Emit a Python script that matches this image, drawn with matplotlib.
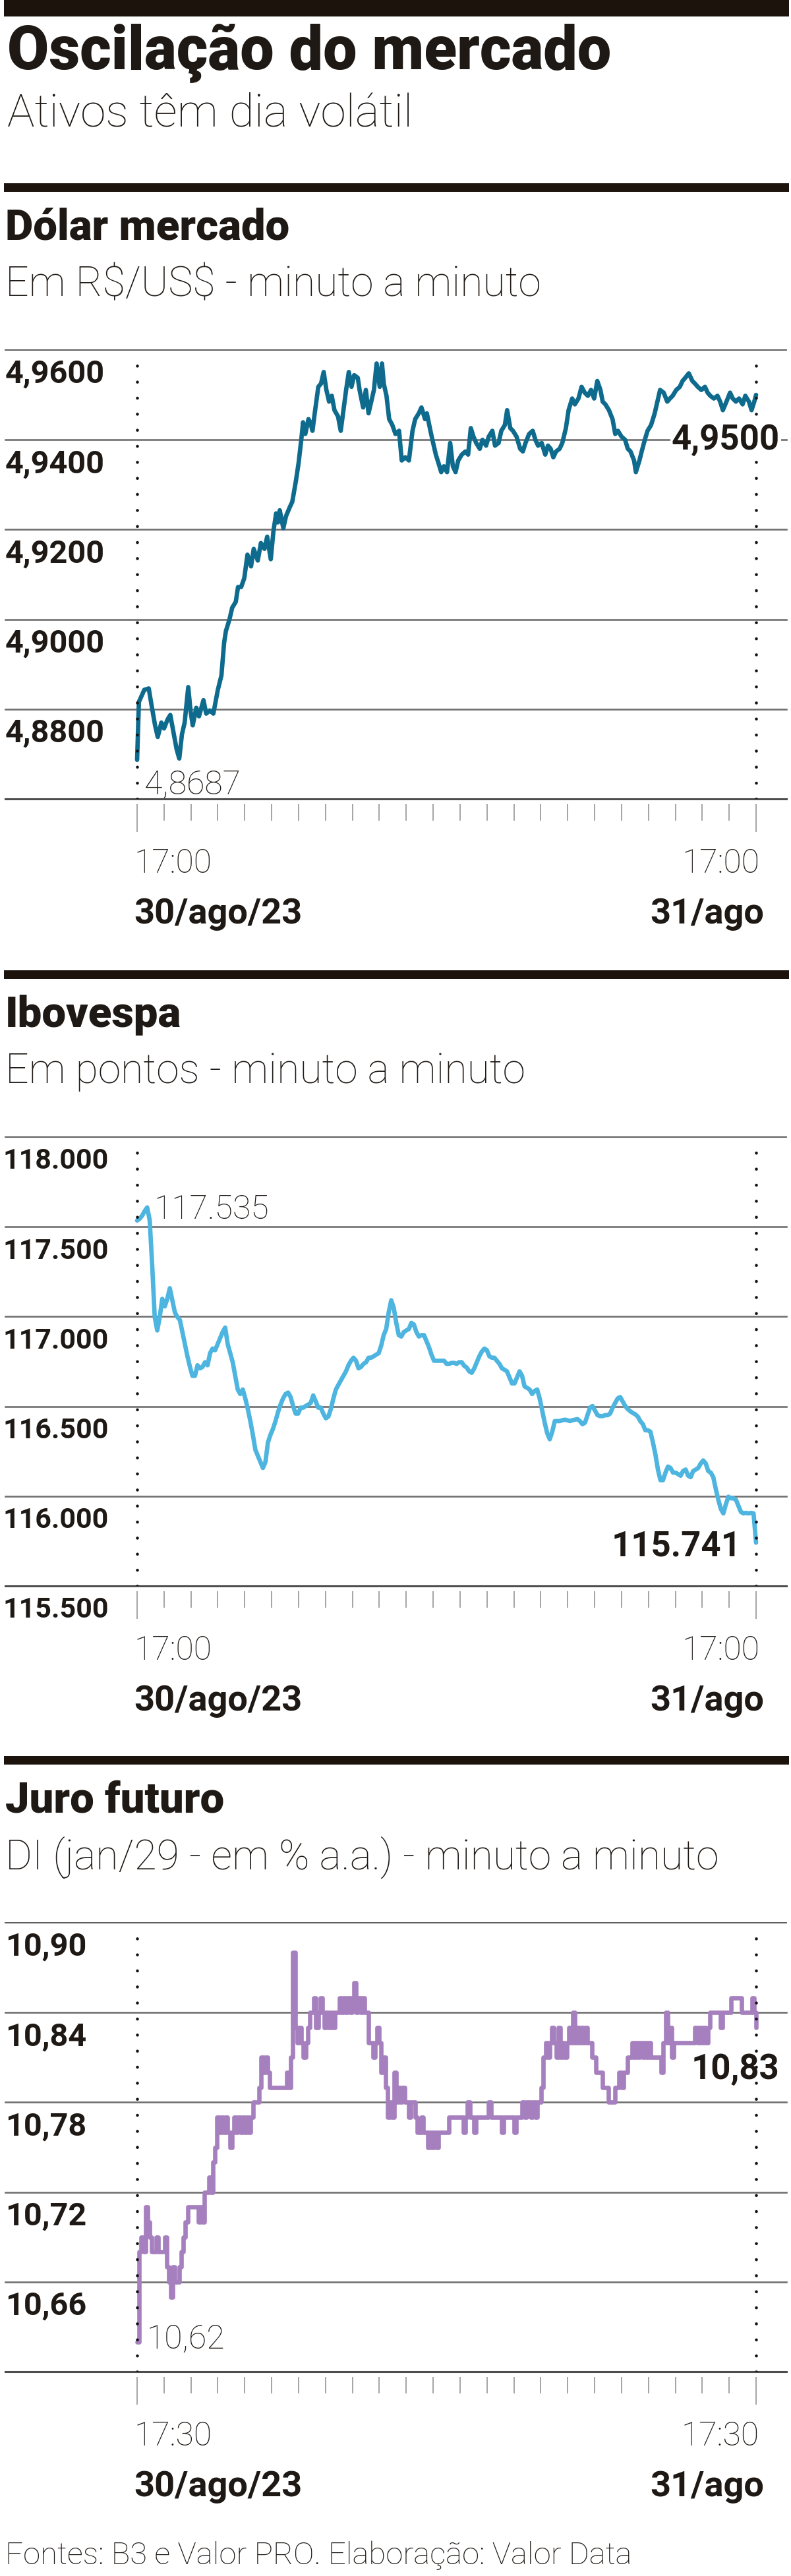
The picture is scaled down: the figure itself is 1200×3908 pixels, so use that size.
import numpy as np
import matplotlib
matplotlib.use("Agg")
import matplotlib.pyplot as plt
from matplotlib import transforms
from matplotlib.patches import Rectangle

# ---- dados ----
sessao = 690      # minutos entre os dois marcadores (17:00 -> 17:00)
n_marcas = 24     # tracinhos do eixo x

# Dólar: minuto, cotação
dolar_min = [0, 2, 8, 13, 16, 20, 23, 27, 30, 34,
             37, 41, 44, 47, 50, 53, 57, 59.5, 62, 66,
             69, 74, 77, 81, 85, 90, 94, 97, 99, 103,
             106, 110, 112.5, 116, 119.5, 123, 127, 130, 134.5, 138,
             142, 145, 149, 152, 155, 157, 159, 163, 166, 170,
             173, 177, 180, 183, 185, 187.5, 191, 193, 195.5, 198,
             202, 205, 208, 211, 214, 217, 220, 224, 227, 230,
             233, 236, 239, 242, 246, 248, 252, 255, 258, 261,
             264, 267, 270.5, 273, 275, 278, 281, 284.5, 288, 292,
             295, 299, 303, 307, 310, 314, 317, 321, 323, 327,
             330, 333, 336, 339, 342, 345.5, 349, 352, 355, 358,
             362, 366, 369, 372, 375, 378, 382, 385, 389, 392,
             396, 399, 403, 406, 410, 412.5, 416, 419, 423, 427,
             430, 433, 437, 441, 444, 447, 451, 455, 458, 461,
             464, 467, 471, 474, 478, 481, 485, 488, 492, 495.5,
             499, 502.5, 506, 509.5, 513, 516.5, 519, 522, 526, 530,
             533, 536, 540, 544, 547, 550, 554, 556, 560, 562.5,
             566, 569, 573, 577, 580, 583, 587, 591, 594, 597,
             601, 605, 608, 611, 615, 619, 622, 625, 629, 633,
             636, 639, 643, 647, 650, 653, 657, 661, 664, 667.5,
             671, 675, 678, 682, 685, 688, 690]
dolar_val = [4.8687, 4.8816, 4.8843, 4.8846, 4.8810, 4.8764, 4.8738, 4.8770, 4.8757, 4.8777,
             4.8787, 4.8744, 4.8711, 4.8690, 4.8744, 4.8770, 4.8849, 4.8797, 4.8764, 4.8803,
             4.8784, 4.8820, 4.8790, 4.8797, 4.8790, 4.8843, 4.8875, 4.8948, 4.8974, 4.9000,
             4.9026, 4.9039, 4.9072, 4.9072, 4.9092, 4.9144, 4.9118, 4.9157, 4.9131, 4.9170,
             4.9157, 4.9184, 4.9134, 4.9197, 4.9236, 4.9216, 4.9243, 4.9203, 4.9230, 4.9249,
             4.9262, 4.9308, 4.9348, 4.9400, 4.9439, 4.9413, 4.9446, 4.9439, 4.9420, 4.9459,
             4.9518, 4.9525, 4.9551, 4.9511, 4.9485, 4.9498, 4.9466, 4.9452, 4.9420, 4.9466,
             4.9511, 4.9551, 4.9518, 4.9544, 4.9538, 4.9511, 4.9472, 4.9511, 4.9459, 4.9485,
             4.9511, 4.9570, 4.9518, 4.9570, 4.9525, 4.9498, 4.9446, 4.9433, 4.9413, 4.9420,
             4.9354, 4.9361, 4.9354, 4.9420, 4.9446, 4.9459, 4.9472, 4.9446, 4.9459, 4.9420,
             4.9393, 4.9367, 4.9348, 4.9328, 4.9341, 4.9328, 4.9393, 4.9341, 4.9328, 4.9354,
             4.9367, 4.9374, 4.9367, 4.9426, 4.9407, 4.9393, 4.9380, 4.9400, 4.9387, 4.9407,
             4.9420, 4.9387, 4.9393, 4.9420, 4.9433, 4.9466, 4.9426, 4.9420, 4.9407, 4.9380,
             4.9374, 4.9393, 4.9413, 4.9420, 4.9400, 4.9387, 4.9393, 4.9367, 4.9387, 4.9380,
             4.9361, 4.9374, 4.9380, 4.9393, 4.9426, 4.9466, 4.9492, 4.9479, 4.9492, 4.9518,
             4.9505, 4.9498, 4.9511, 4.9492, 4.9531, 4.9511, 4.9485, 4.9479, 4.9466, 4.9446,
             4.9413, 4.9420, 4.9407, 4.9400, 4.9380, 4.9374, 4.9354, 4.9328, 4.9354, 4.9374,
             4.9400, 4.9420, 4.9433, 4.9459, 4.9485, 4.9511, 4.9505, 4.9485, 4.9492, 4.9498,
             4.9511, 4.9518, 4.9531, 4.9538, 4.9548, 4.9531, 4.9525, 4.9518, 4.9511, 4.9518,
             4.9505, 4.9498, 4.9492, 4.9498, 4.9485, 4.9466, 4.9485, 4.9505, 4.9492, 4.9485,
             4.9492, 4.9479, 4.9498, 4.9485, 4.9466, 4.9485, 4.9500]
dolar_grid = [4.96, 4.94, 4.92, 4.90, 4.88, 4.86]
dolar_ticks = ["4,9600", "4,9400", "4,9200", "4,9000", "4,8800"]

# Ibovespa: pontos, amostras igualmente espaçadas
ibov_val = [117535, 117545, 117562, 117588, 117608, 117537, 117284, 116998, 116923, 116998,
            117099, 117057, 117099, 117158, 117091, 117024, 116998, 116981, 116914, 116847,
            116779, 116720, 116670, 116670, 116729, 116712, 116720, 116746, 116729, 116796,
            116822, 116813, 116847, 116880, 116914, 116939, 116847, 116796, 116746, 116670,
            116594, 116569, 116594, 116544, 116485, 116418, 116342, 116258, 116224, 116190,
            116157, 116190, 116300, 116342, 116375, 116418, 116468, 116510, 116544, 116569,
            116577, 116552, 116502, 116460, 116460, 116493, 116493, 116502, 116510, 116519,
            116561, 116527, 116493, 116493, 116460, 116434, 116443, 116485, 116544, 116594,
            116620, 116645, 116670, 116695, 116729, 116754, 116771, 116754, 116712, 116720,
            116737, 116746, 116771, 116771, 116779, 116788, 116796, 116838, 116897, 116931,
            117024, 117091, 117049, 116965, 116897, 116889, 116914, 116923, 116931, 116965,
            116956, 116914, 116889, 116897, 116897, 116864, 116830, 116788, 116754, 116754,
            116754, 116754, 116754, 116737, 116737, 116742, 116742, 116737, 116746, 116746,
            116726, 116716, 116695, 116687, 116712, 116746, 116779, 116805, 116822, 116813,
            116779, 116771, 116771, 116754, 116737, 116712, 116704, 116695, 116662, 116628,
            116628, 116662, 116695, 116670, 116611, 116603, 116594, 116569, 116586, 116594,
            116544, 116476, 116409, 116350, 116317, 116359, 116418, 116418, 116418, 116423,
            116426, 116423, 116418, 116423, 116426, 116429, 116418, 116401, 116409, 116451,
            116493, 116502, 116476, 116451, 116446, 116446, 116451, 116451, 116460, 116493,
            116519, 116544, 116552, 116527, 116502, 116485, 116473, 116463, 116456, 116443,
            116418, 116401, 116367, 116367, 116359, 116300, 116232, 116148, 116089, 116089,
            116131, 116165, 116157, 116131, 116131, 116123, 116114, 116140, 116148, 116114,
            116106, 116140, 116148, 116157, 116182, 116199, 116182, 116140, 116131, 116106,
            116039, 115980, 115929, 115904, 115955, 115997, 115988, 115988, 115980, 115946,
            115912, 115904, 115907, 115904, 115907, 115904, 115741]
ibov_grid = [118000, 117500, 117000, 116500, 116000, 115500]
ibov_ticks = ["118.000", "117.500", "117.000", "116.500", "116.000", "115.500"]

# Juro futuro DI jan/29: % a.a., amostras igualmente espaçadas
juro_val = [10.62, 10.68, 10.69, 10.68, 10.71, 10.70, 10.69, 10.68, 10.68, 10.69,
            10.68, 10.68, 10.68, 10.69, 10.67, 10.66, 10.65, 10.67, 10.66, 10.66,
            10.67, 10.68, 10.69, 10.70, 10.71, 10.71, 10.71, 10.71, 10.71, 10.70,
            10.71, 10.70, 10.72, 10.72, 10.73, 10.72, 10.74, 10.75, 10.77, 10.76,
            10.77, 10.76, 10.77, 10.76, 10.75, 10.76, 10.77, 10.76, 10.77, 10.76,
            10.77, 10.76, 10.77, 10.76, 10.77, 10.78, 10.78, 10.78, 10.79, 10.81,
            10.80, 10.81, 10.80, 10.79, 10.79, 10.79, 10.79, 10.79, 10.79, 10.79,
            10.79, 10.80, 10.79, 10.81, 10.88, 10.83, 10.82, 10.83, 10.82, 10.81,
            10.82, 10.83, 10.84, 10.84, 10.85, 10.83, 10.84, 10.85, 10.84, 10.83,
            10.84, 10.83, 10.84, 10.83, 10.84, 10.84, 10.85, 10.84, 10.85, 10.84,
            10.85, 10.84, 10.85, 10.86, 10.84, 10.85, 10.84, 10.85, 10.84, 10.84,
            10.82, 10.82, 10.81, 10.82, 10.83, 10.82, 10.80, 10.81, 10.79, 10.77,
            10.78, 10.77, 10.80, 10.78, 10.79, 10.78, 10.79, 10.78, 10.78, 10.77,
            10.78, 10.78, 10.77, 10.76, 10.76, 10.77, 10.76, 10.76, 10.75, 10.76,
            10.75, 10.76, 10.75, 10.76, 10.76, 10.76, 10.76, 10.76, 10.77, 10.77,
            10.77, 10.77, 10.77, 10.77, 10.77, 10.76, 10.77, 10.78, 10.77, 10.77,
            10.76, 10.77, 10.77, 10.77, 10.77, 10.77, 10.77, 10.78, 10.77, 10.77,
            10.77, 10.77, 10.77, 10.76, 10.77, 10.77, 10.77, 10.77, 10.77, 10.76,
            10.77, 10.77, 10.77, 10.78, 10.77, 10.78, 10.78, 10.77, 10.78, 10.77,
            10.78, 10.78, 10.79, 10.81, 10.82, 10.81, 10.82, 10.83, 10.82, 10.81,
            10.83, 10.81, 10.82, 10.81, 10.82, 10.83, 10.82, 10.84, 10.82, 10.83,
            10.82, 10.83, 10.82, 10.83, 10.82, 10.82, 10.81, 10.81, 10.80, 10.80,
            10.80, 10.79, 10.79, 10.79, 10.78, 10.78, 10.78, 10.79, 10.79, 10.80,
            10.79, 10.80, 10.80, 10.81, 10.81, 10.82, 10.81, 10.82, 10.81, 10.82,
            10.81, 10.82, 10.81, 10.82, 10.81, 10.81, 10.81, 10.81, 10.81, 10.80,
            10.82, 10.84, 10.82, 10.83, 10.81, 10.82, 10.82, 10.82, 10.82, 10.82,
            10.82, 10.82, 10.82, 10.82, 10.82, 10.83, 10.82, 10.83, 10.82, 10.83,
            10.82, 10.83, 10.84, 10.84, 10.84, 10.84, 10.84, 10.83, 10.84, 10.84,
            10.84, 10.84, 10.85, 10.85, 10.85, 10.85, 10.85, 10.84, 10.84, 10.84,
            10.84, 10.84, 10.85, 10.84, 10.83]
juro_grid = [10.90, 10.84, 10.78, 10.72, 10.66, 10.60]
juro_ticks = ["10,90", "10,84", "10,78", "10,72", "10,66"]

ibov_min = np.linspace(0, sessao, len(ibov_val))
juro_min = np.linspace(0, sessao, len(juro_val))

# ---- estilo ----
W, H, DPI = 1200, 3908, 100
TXT = "#1e1915"
ESCURO = "#1c130c"
HEAVY = dict(family=["Roboto", "DejaVu Sans"], weight="black")
BOLD = dict(family=["Roboto", "DejaVu Sans"], weight="bold")
LIGHT = dict(family=["Roboto", "DejaVu Sans"], weight="light")

fig = plt.figure(figsize=(W / DPI, H / DPI), dpi=DPI)
fig.patch.set_facecolor("white")


def fy(px):
    return 1 - px / H


def barra(y0, y1):
    fig.add_artist(Rectangle((6 / W, fy(y1)), (1197 - 6) / W, (y1 - y0) / H,
                             transform=fig.transFigure, color=ESCURO, lw=0))


def texto(x, y, s, size, font):
    fig.text(x / W, fy(y), s, fontsize=size, color=TXT, va="baseline", **font)


def painel(top, titulo, sub, x, y, cor, grid, ticks, lab_x, lab_size, hora,
           ini, ini_off, fim, fim_off, fim_fundo=False, degraus=False):
    barra(top - 253, top - 240)
    texto(8, top - 167, titulo, 47, HEAVY)
    texto(8, top - 82, sub, 45, LIGHT)

    alt = 681
    ax = fig.add_axes([8 / W, fy(top + alt), (1193 - 8) / W, alt / H])
    escala = (1147 - 208) / sessao
    ax.set_xlim(-(208 - 8) / escala, sessao + (1193 - 1147) / escala)
    ax.set_ylim(grid[-1], grid[0])
    ax.patch.set_alpha(0)

    for i, g in enumerate(grid):
        if i == 0:
            c, lw = "#4d4d4d", 1.3
        elif i == len(grid) - 1:
            c, lw = "#4d4d4d", 2.2
        else:
            c, lw = "#707070", 1.9
        ax.axhline(g, color=c, lw=lw, clip_on=False, zorder=1)

    # linhas pontilhadas nos dois 17:00
    for xv in (x[0], x[-1]):
        ax.axvline(xv, ymax=1 - 20 / alt, color="#111111", lw=3.3,
                   linestyle=(0, (0.01, 5.3)), dash_capstyle="round", zorder=4)

    ax.plot(x, y, color=cor, lw=4.8, solid_joinstyle="round", solid_capstyle="round",
            drawstyle="steps-post" if degraus else "default", zorder=3, clip_on=False)

    # eixo x: tracinhos
    marcas = np.linspace(0, sessao, n_marcas)
    ax.set_xticks([marcas[0], marcas[-1]])
    ax.set_xticks(marcas[1:-1], minor=True)
    ax.set_yticks([])
    ax.spines["bottom"].set_position(("outward", 8 * 0.72))
    for s in ax.spines.values():
        s.set_color("none")
    ax.tick_params(axis="x", which="major", length=42 * 0.72, width=1.1,
                   color="#8c8c8c", labelbottom=False)
    ax.tick_params(axis="x", which="minor", length=25 * 0.72, width=1.1,
                   color="#8c8c8c", labelbottom=False)

    # rótulos do eixo y (abaixo de cada linha)
    tr = transforms.offset_copy(
        transforms.blended_transform_factory(fig.transFigure, ax.transData),
        fig=fig, y=-37, units="dots")
    for g, t in zip(grid, ticks):
        ax.text(lab_x / W, g, t, transform=tr, ha="left", va="center",
                fontsize=lab_size, color=TXT, **BOLD)

    # horas e datas
    trb = transforms.blended_transform_factory(ax.transData, ax.transAxes)
    for xv, ha, dx in ((x[0], "left", -5), (x[-1], "right", 5)):
        ax.text(xv, 0, hora, ha=ha, va="baseline", fontsize=36, color=TXT,
                transform=transforms.offset_copy(trb, fig=fig, x=dx, y=-112, units="dots"),
                **LIGHT)
    for xv, ha, dx, s in ((x[0], "left", -5, "30/ago/23"), (x[-1], "right", 12, "31/ago")):
        ax.text(xv, 0, s, ha=ha, va="baseline", fontsize=39, color=TXT,
                transform=transforms.offset_copy(trb, fig=fig, x=dx, y=-189, units="dots"),
                **BOLD)

    # valores de abertura e fechamento
    ax.annotate(ini, (x[0], y[0]), xytext=ini_off, textcoords="offset pixels",
                ha="left", va="baseline", fontsize=36, color=TXT, zorder=5, **LIGHT)
    kw = dict(bbox=dict(facecolor="white", edgecolor="none", pad=1)) if fim_fundo else {}
    ax.annotate(fim, (x[-1], y[-1]), xytext=fim_off, textcoords="offset pixels",
                ha="right", va="center", fontsize=38, color=TXT, zorder=5, **BOLD, **kw)


# cabeçalho
barra(0, 25)
texto(11, 105, "Oscilação do mercado", 66, HEAVY)
texto(11, 192, "Ativos têm dia volátil", 50, LIGHT)

painel(531, "Dólar mercado", r"Em R\$/US\$ - minuto a minuto",
       dolar_min, dolar_val, "#0f6b8d", dolar_grid, dolar_ticks, 8, 35, "17:00",
       "4,8687", (11, -52), "4,9500", (36, -68), fim_fundo=True)

painel(1725, "Ibovespa", "Em pontos - minuto a minuto",
       ibov_min, ibov_val, "#4db5df", ibov_grid, ibov_ticks, 4, 31, "17:00",
       "117.535", (25, 3), "115.741", (-22, -6))

painel(2917, "Juro futuro", "DI (jan/29 - em % a.a.) - minuto a minuto",
       juro_min, juro_val, "#a680be", juro_grid, juro_ticks, 8, 35, "17:30",
       "10,62", (14, -10), "10,83", (35, -64), degraus=True)

texto(8, 3890, "Fontes: B3 e Valor PRO. Elaboração: Valor Data", 34, LIGHT)

fig.savefig("out.png", dpi=DPI, facecolor="white")
